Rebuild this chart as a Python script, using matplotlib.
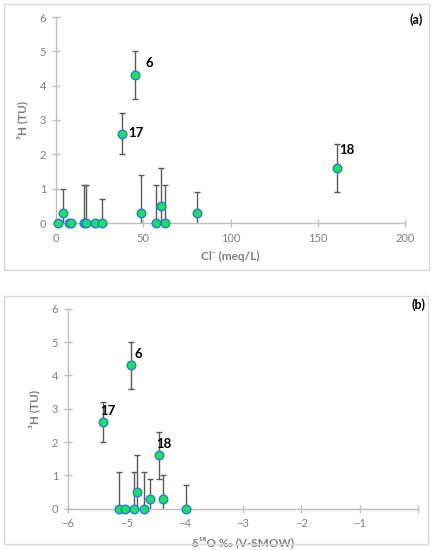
import numpy as np
import matplotlib
matplotlib.use("Agg")
import matplotlib.pyplot as plt
from matplotlib.patches import Rectangle

plt.rcParams['font.family'] = ['Lato', 'DejaVu Sans']

# panel (a): chloride vs tritium
cl = [1.1, 4.2, 7.4, 8.4, 16.2, 17.2, 22.1, 26.3, 38.0, 45.0, 48.7, 57.4, 59.9, 62.2, 80.7, 161.0]
h3_a = [0, 0.3, 0, 0, 0, 0, 0, 0, 2.6, 4.3, 0.3, 0, 0.5, 0, 0.3, 1.6]
err_a = [0, 0.7, 0, 0, 1.1, 1.1, 0, 0.7, 0.6, 0.7, 1.1, 1.1, 1.1, 1.1, 0.6, 0.7]
lab_a = {'6': (53.5, 4.66), '17': (45.8, 2.62), '18': (166.5, 2.13)}

# panel (b): d18O vs tritium
d18o = [-5.40, -4.92, -5.13, -5.03, -4.87, -4.81, -4.70, -4.59, -4.44, -4.38, -3.98]
h3_b = [2.6, 4.3, 0, 0, 0, 0.5, 0, 0.3, 1.6, 0.3, 0]
err_b = [0.6, 0.7, 1.1, 0, 1.1, 1.1, 1.1, 0.6, 0.7, 0.7, 0.7]
lab_b = {'6': (-4.80, 4.64), '17': (-5.32, 2.93), '18': (-4.36, 1.94)}

W, H = 434, 550
fig = plt.figure(figsize=(W / 100, H / 100), dpi=100)

# outer frames
for x0, y0, x1, y1 in [(4, 4, 429, 270), (4, 296, 428, 544)]:
    fig.patches.append(Rectangle((x0 / W, 1 - y1 / H), (x1 - x0) / W, (y1 - y0) / H,
                                 transform=fig.transFigure, fill=False,
                                 edgecolor='#d9d9d9', lw=1.0))

axis_col = '#bfbfbf'
tick_col = '#808080'
lab_col = '#7f7f7f'


def style(ax, xlim, xticks, xlabels):
    ax.set_xlim(*xlim)
    ax.set_ylim(0, 6)
    for s in ['top', 'right']:
        ax.spines[s].set_visible(False)
    for s in ['left', 'bottom']:
        ax.spines[s].set_color(axis_col)
        ax.spines[s].set_linewidth(1.0)
    ax.set_xticks(xticks)
    ax.set_xticklabels(xlabels)
    ax.set_yticks(range(0, 7))
    ax.tick_params(direction='inout', length=6, width=1, color=axis_col,
                   labelcolor=tick_col, labelsize=8, pad=4)
    ax.patch.set_alpha(0)


def draw(ax, x, y, e, labels):
    ax.errorbar(x, y, yerr=e, fmt='none', ecolor='#595959', elinewidth=1.0,
                capsize=2.2, capthick=1.0, zorder=2)
    ax.plot(x, y, 'o', ms=6.2, mfc='#14e65a', mec='#2f78e0', mew=1.0,
            zorder=3, clip_on=False)
    for t, (tx, ty) in labels.items():
        ax.text(tx, ty, t, fontsize=9.5, fontweight='bold', color='black',
                ha='center', va='center')


ax1 = fig.add_axes([56 / W, 1 - 223 / H, 349 / W, 206 / H])
style(ax1, (0, 200), [0, 50, 100, 150, 200], ['0', '50', '100', '150', '200'])
draw(ax1, cl, h3_a, err_a, lab_a)
ax1.set_ylabel('³H (TU)', fontsize=8.5, color=lab_col, fontweight='bold', labelpad=8)
ax1.set_xlabel('Cl⁻ (meq/L)', fontsize=8.5, color=lab_col, fontweight='bold', labelpad=5)
fig.text(423 / W, 1 - 20 / H, '(a)', fontsize=9, fontweight='bold',
         ha='right', va='center')

ax2 = fig.add_axes([68 / W, 1 - 508.7 / H, 350 / W, 200 / H])
style(ax2, (-6, 0), [-6, -5, -4, -3, -2, -1, 0], ['−6', '−5', '−4', '−3', '−2', '−1', ''])
draw(ax2, d18o, h3_b, err_b, lab_b)
ax2.set_ylabel('³H (TU)', fontsize=8.5, color=lab_col, fontweight='bold', labelpad=8)
ax2.set_xlabel('δ¹⁸O ‰ (V-SMOW)', fontsize=8.5, color=lab_col, fontweight='bold', labelpad=5)
fig.text(425 / W, 1 - 305 / H, '(b)', fontsize=9, fontweight='bold',
         ha='right', va='center')

fig.savefig('out.png', dpi=100)
